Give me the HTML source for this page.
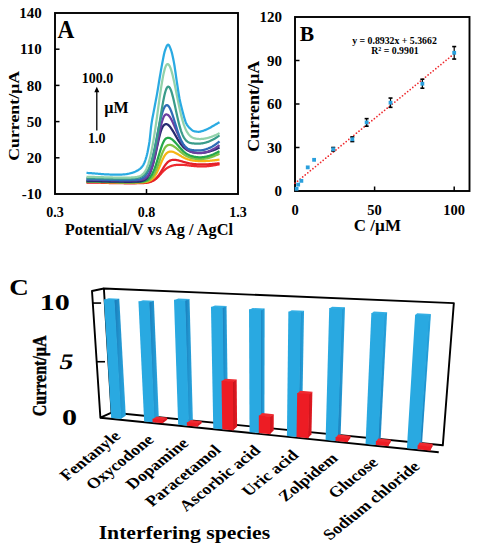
<!DOCTYPE html>
<html><head><meta charset="utf-8"><style>
html,body{margin:0;padding:0;background:#fff;width:477px;height:550px;overflow:hidden}
svg{display:block}
</style></head><body>
<svg width="477" height="550" viewBox="0 0 477 550" font-family="'Liberation Serif', serif" font-weight="bold" fill="#000">
<defs>
<linearGradient id="gb" x1="0" y1="0" x2="1" y2="0"><stop offset="0" stop-color="#1A78B6"/><stop offset="0.45" stop-color="#2193CE"/><stop offset="1" stop-color="#29A6DF"/></linearGradient>
<linearGradient id="gr" x1="0" y1="0" x2="1" y2="0"><stop offset="0" stop-color="#B8121A"/><stop offset="0.5" stop-color="#D5171F"/><stop offset="1" stop-color="#E61B23"/></linearGradient>
</defs>
<rect width="477" height="550" fill="#fff"/>
<path d="M86.5,182.50 L87.0,182.50 L87.5,182.50 L88.0,182.50 L88.5,182.50 L89.0,182.51 L89.5,182.51 L90.0,182.51 L90.5,182.52 L91.0,182.53 L91.5,182.53 L92.0,182.54 L92.5,182.55 L93.0,182.56 L93.5,182.57 L94.0,182.58 L94.5,182.59 L95.0,182.60 L95.5,182.61 L96.0,182.62 L96.5,182.64 L97.0,182.65 L97.5,182.66 L98.0,182.68 L98.5,182.69 L99.0,182.71 L99.5,182.72 L100.0,182.74 L100.5,182.75 L101.0,182.77 L101.5,182.78 L102.0,182.80 L102.5,182.81 L103.0,182.83 L103.5,182.84 L104.0,182.86 L104.5,182.88 L105.0,182.89 L105.5,182.91 L106.0,182.92 L106.5,182.94 L107.0,182.95 L107.5,182.96 L108.0,182.98 L108.5,182.99 L109.0,183.01 L109.5,183.02 L110.0,183.03 L110.5,183.04 L111.0,183.06 L111.5,183.07 L112.0,183.08 L112.5,183.09 L113.0,183.10 L113.5,183.11 L114.0,183.12 L114.5,183.13 L115.0,183.14 L115.5,183.15 L116.0,183.16 L116.5,183.17 L117.0,183.18 L117.5,183.18 L118.0,183.19 L118.5,183.20 L119.0,183.20 L119.5,183.21 L120.0,183.21 L120.5,183.22 L121.0,183.23 L121.5,183.23 L122.0,183.24 L122.5,183.24 L123.0,183.24 L123.5,183.25 L124.0,183.25 L124.5,183.25 L125.0,183.26 L125.5,183.26 L126.0,183.26 L126.5,183.26 L127.0,183.27 L127.5,183.27 L128.0,183.27 L128.5,183.27 L129.0,183.27 L129.5,183.27 L130.0,183.27 L130.5,183.27 L131.0,183.27 L131.5,183.27 L132.0,183.27 L132.5,183.27 L133.0,183.27 L133.5,183.27 L134.0,183.27 L134.5,183.27 L135.0,183.26 L135.5,183.26 L136.0,183.25 L136.5,183.25 L137.0,183.24 L137.5,183.24 L138.0,183.23 L138.5,183.22 L139.0,183.21 L139.5,183.20 L140.0,183.19 L140.5,183.18 L141.0,183.16 L141.5,183.14 L142.0,183.12 L142.5,183.10 L143.0,183.07 L143.5,183.04 L144.0,183.01 L144.5,182.97 L145.0,182.92 L145.5,182.88 L146.0,182.82 L146.5,182.76 L147.0,182.69 L147.5,182.61 L148.0,182.52 L148.5,182.42 L149.0,182.31 L149.5,182.19 L150.0,182.05 L150.5,181.89 L151.0,181.72 L151.5,181.53 L152.0,181.32 L152.5,181.09 L153.0,180.84 L153.5,180.56 L154.0,180.26 L154.5,179.93 L155.0,179.57 L155.5,179.19 L156.0,178.78 L156.5,178.35 L157.0,177.89 L157.5,177.41 L158.0,176.91 L158.5,176.39 L159.0,175.86 L159.5,175.31 L160.0,174.76 L160.5,174.20 L161.0,173.65 L161.5,173.10 L162.0,172.55 L162.5,172.02 L163.0,171.50 L163.5,171.00 L164.0,170.52 L164.5,170.06 L165.0,169.62 L165.5,169.21 L166.0,168.81 L166.5,168.45 L167.0,168.10 L167.5,167.78 L168.0,167.48 L168.5,167.20 L169.0,166.94 L169.5,166.71 L170.0,166.48 L170.5,166.28 L171.0,166.09 L171.5,165.92 L172.0,165.77 L172.5,165.62 L173.0,165.49 L173.5,165.37 L174.0,165.27 L174.5,165.17 L175.0,165.09 L175.5,165.02 L176.0,164.95 L176.5,164.90 L177.0,164.86 L177.5,164.82 L178.0,164.80 L178.5,164.78 L179.0,164.76 L179.5,164.76 L180.0,164.76 L180.5,164.77 L181.0,164.78 L181.5,164.80 L182.0,164.82 L182.5,164.85 L183.0,164.88 L183.5,164.91 L184.0,164.95 L184.5,165.00 L185.0,165.04 L185.5,165.09 L186.0,165.14 L186.5,165.19 L187.0,165.25 L187.5,165.30 L188.0,165.36 L188.5,165.42 L189.0,165.47 L189.5,165.53 L190.0,165.59 L190.5,165.64 L191.0,165.70 L191.5,165.76 L192.0,165.81 L192.5,165.87 L193.0,165.92 L193.5,165.97 L194.0,166.02 L194.5,166.07 L195.0,166.11 L195.5,166.16 L196.0,166.20 L196.5,166.24 L197.0,166.28 L197.5,166.31 L198.0,166.35 L198.5,166.38 L199.0,166.40 L199.5,166.43 L200.0,166.44 L200.5,166.46 L201.0,166.46 L201.5,166.47 L202.0,166.47 L202.5,166.46 L203.0,166.45 L203.5,166.44 L204.0,166.42 L204.5,166.40 L205.0,166.38 L205.5,166.35 L206.0,166.32 L206.5,166.28 L207.0,166.24 L207.5,166.20 L208.0,166.15 L208.5,166.10 L209.0,166.04 L209.5,165.99 L210.0,165.93 L210.5,165.86 L211.0,165.80 L211.5,165.73 L212.0,165.65 L212.5,165.58 L213.0,165.50 L213.5,165.42 L214.0,165.33 L214.5,165.24 L215.0,165.15 L215.5,165.06 L216.0,164.96 L216.5,164.86 L217.0,164.76 L217.5,164.65 L218.0,164.54 L218.5,164.43 L219.0,164.32 L219.5,164.20" fill="none" stroke="#EE2A2F" stroke-width="2.25" stroke-linejoin="round"/>
<path d="M86.5,182.00 L87.0,182.00 L87.5,182.00 L88.0,182.00 L88.5,182.00 L89.0,182.01 L89.5,182.01 L90.0,182.01 L90.5,182.02 L91.0,182.03 L91.5,182.03 L92.0,182.04 L92.5,182.05 L93.0,182.06 L93.5,182.07 L94.0,182.08 L94.5,182.09 L95.0,182.10 L95.5,182.11 L96.0,182.12 L96.5,182.14 L97.0,182.15 L97.5,182.16 L98.0,182.18 L98.5,182.19 L99.0,182.21 L99.5,182.22 L100.0,182.24 L100.5,182.25 L101.0,182.27 L101.5,182.28 L102.0,182.30 L102.5,182.31 L103.0,182.33 L103.5,182.34 L104.0,182.36 L104.5,182.38 L105.0,182.39 L105.5,182.41 L106.0,182.42 L106.5,182.44 L107.0,182.45 L107.5,182.46 L108.0,182.48 L108.5,182.49 L109.0,182.51 L109.5,182.52 L110.0,182.53 L110.5,182.54 L111.0,182.56 L111.5,182.57 L112.0,182.58 L112.5,182.59 L113.0,182.60 L113.5,182.61 L114.0,182.62 L114.5,182.63 L115.0,182.64 L115.5,182.65 L116.0,182.66 L116.5,182.67 L117.0,182.68 L117.5,182.68 L118.0,182.69 L118.5,182.70 L119.0,182.70 L119.5,182.71 L120.0,182.72 L120.5,182.72 L121.0,182.73 L121.5,182.73 L122.0,182.74 L122.5,182.74 L123.0,182.74 L123.5,182.75 L124.0,182.75 L124.5,182.75 L125.0,182.76 L125.5,182.76 L126.0,182.76 L126.5,182.77 L127.0,182.77 L127.5,182.77 L128.0,182.77 L128.5,182.77 L129.0,182.77 L129.5,182.77 L130.0,182.78 L130.5,182.78 L131.0,182.78 L131.5,182.78 L132.0,182.78 L132.5,182.78 L133.0,182.78 L133.5,182.77 L134.0,182.77 L134.5,182.77 L135.0,182.77 L135.5,182.77 L136.0,182.76 L136.5,182.76 L137.0,182.76 L137.5,182.75 L138.0,182.75 L138.5,182.74 L139.0,182.73 L139.5,182.72 L140.0,182.71 L140.5,182.70 L141.0,182.69 L141.5,182.68 L142.0,182.66 L142.5,182.64 L143.0,182.62 L143.5,182.60 L144.0,182.57 L144.5,182.54 L145.0,182.51 L145.5,182.47 L146.0,182.42 L146.5,182.37 L147.0,182.31 L147.5,182.24 L148.0,182.17 L148.5,182.08 L149.0,181.98 L149.5,181.87 L150.0,181.75 L150.5,181.60 L151.0,181.44 L151.5,181.26 L152.0,181.06 L152.5,180.83 L153.0,180.58 L153.5,180.30 L154.0,179.98 L154.5,179.64 L155.0,179.25 L155.5,178.84 L156.0,178.38 L156.5,177.88 L157.0,177.34 L157.5,176.76 L158.0,176.15 L158.5,175.49 L159.0,174.80 L159.5,174.07 L160.0,173.32 L160.5,172.54 L161.0,171.74 L161.5,170.93 L162.0,170.11 L162.5,169.29 L163.0,168.48 L163.5,167.68 L164.0,166.89 L164.5,166.14 L165.0,165.41 L165.5,164.72 L166.0,164.06 L166.5,163.46 L167.0,162.90 L167.5,162.39 L168.0,161.93 L168.5,161.52 L169.0,161.17 L169.5,160.88 L170.0,160.63 L170.5,160.43 L171.0,160.26 L171.5,160.12 L172.0,160.01 L172.5,159.92 L173.0,159.87 L173.5,159.83 L174.0,159.82 L174.5,159.83 L175.0,159.86 L175.5,159.90 L176.0,159.97 L176.5,160.04 L177.0,160.13 L177.5,160.23 L178.0,160.34 L178.5,160.46 L179.0,160.59 L179.5,160.72 L180.0,160.86 L180.5,161.00 L181.0,161.14 L181.5,161.29 L182.0,161.44 L182.5,161.59 L183.0,161.74 L183.5,161.88 L184.0,162.03 L184.5,162.17 L185.0,162.31 L185.5,162.45 L186.0,162.58 L186.5,162.71 L187.0,162.84 L187.5,162.95 L188.0,163.07 L188.5,163.18 L189.0,163.28 L189.5,163.38 L190.0,163.48 L190.5,163.57 L191.0,163.65 L191.5,163.73 L192.0,163.80 L192.5,163.87 L193.0,163.94 L193.5,164.00 L194.0,164.05 L194.5,164.10 L195.0,164.15 L195.5,164.19 L196.0,164.23 L196.5,164.27 L197.0,164.30 L197.5,164.33 L198.0,164.36 L198.5,164.39 L199.0,164.41 L199.5,164.42 L200.0,164.44 L200.5,164.45 L201.0,164.45 L201.5,164.46 L202.0,164.46 L202.5,164.46 L203.0,164.45 L203.5,164.44 L204.0,164.43 L204.5,164.42 L205.0,164.41 L205.5,164.39 L206.0,164.37 L206.5,164.35 L207.0,164.33 L207.5,164.30 L208.0,164.28 L208.5,164.25 L209.0,164.22 L209.5,164.18 L210.0,164.15 L210.5,164.11 L211.0,164.08 L211.5,164.04 L212.0,164.00 L212.5,163.96 L213.0,163.91 L213.5,163.87 L214.0,163.82 L214.5,163.77 L215.0,163.72 L215.5,163.67 L216.0,163.62 L216.5,163.56 L217.0,163.51 L217.5,163.45 L218.0,163.39 L218.5,163.33 L219.0,163.27 L219.5,163.20" fill="none" stroke="#E42129" stroke-width="2.25" stroke-linejoin="round"/>
<path d="M86.5,181.80 L87.0,181.80 L87.5,181.80 L88.0,181.80 L88.5,181.80 L89.0,181.81 L89.5,181.81 L90.0,181.81 L90.5,181.82 L91.0,181.83 L91.5,181.83 L92.0,181.84 L92.5,181.85 L93.0,181.86 L93.5,181.87 L94.0,181.88 L94.5,181.89 L95.0,181.90 L95.5,181.91 L96.0,181.92 L96.5,181.94 L97.0,181.95 L97.5,181.96 L98.0,181.98 L98.5,181.99 L99.0,182.01 L99.5,182.02 L100.0,182.04 L100.5,182.05 L101.0,182.07 L101.5,182.08 L102.0,182.10 L102.5,182.11 L103.0,182.13 L103.5,182.14 L104.0,182.16 L104.5,182.18 L105.0,182.19 L105.5,182.21 L106.0,182.22 L106.5,182.24 L107.0,182.25 L107.5,182.26 L108.0,182.28 L108.5,182.29 L109.0,182.31 L109.5,182.32 L110.0,182.33 L110.5,182.34 L111.0,182.36 L111.5,182.37 L112.0,182.38 L112.5,182.39 L113.0,182.40 L113.5,182.41 L114.0,182.42 L114.5,182.43 L115.0,182.44 L115.5,182.45 L116.0,182.46 L116.5,182.47 L117.0,182.48 L117.5,182.48 L118.0,182.49 L118.5,182.50 L119.0,182.50 L119.5,182.51 L120.0,182.51 L120.5,182.52 L121.0,182.53 L121.5,182.53 L122.0,182.54 L122.5,182.54 L123.0,182.54 L123.5,182.55 L124.0,182.55 L124.5,182.55 L125.0,182.56 L125.5,182.56 L126.0,182.56 L126.5,182.56 L127.0,182.57 L127.5,182.57 L128.0,182.57 L128.5,182.57 L129.0,182.57 L129.5,182.57 L130.0,182.57 L130.5,182.57 L131.0,182.57 L131.5,182.57 L132.0,182.57 L132.5,182.57 L133.0,182.57 L133.5,182.57 L134.0,182.57 L134.5,182.56 L135.0,182.56 L135.5,182.56 L136.0,182.55 L136.5,182.55 L137.0,182.54 L137.5,182.53 L138.0,182.52 L138.5,182.51 L139.0,182.50 L139.5,182.49 L140.0,182.47 L140.5,182.46 L141.0,182.44 L141.5,182.41 L142.0,182.39 L142.5,182.35 L143.0,182.32 L143.5,182.28 L144.0,182.23 L144.5,182.17 L145.0,182.11 L145.5,182.03 L146.0,181.95 L146.5,181.85 L147.0,181.73 L147.5,181.60 L148.0,181.45 L148.5,181.28 L149.0,181.08 L149.5,180.85 L150.0,180.60 L150.5,180.31 L151.0,179.99 L151.5,179.62 L152.0,179.21 L152.5,178.76 L153.0,178.25 L153.5,177.69 L154.0,177.08 L154.5,176.41 L155.0,175.68 L155.5,174.90 L156.0,174.05 L156.5,173.15 L157.0,172.19 L157.5,171.17 L158.0,170.12 L158.5,169.01 L159.0,167.88 L159.5,166.72 L160.0,165.54 L160.5,164.35 L161.0,163.17 L161.5,162.00 L162.0,160.86 L162.5,159.76 L163.0,158.70 L163.5,157.71 L164.0,156.77 L164.5,155.92 L165.0,155.14 L165.5,154.45 L166.0,153.85 L166.5,153.34 L167.0,152.92 L167.5,152.57 L168.0,152.27 L168.5,152.03 L169.0,151.84 L169.5,151.70 L170.0,151.60 L170.5,151.55 L171.0,151.54 L171.5,151.58 L172.0,151.64 L172.5,151.74 L173.0,151.88 L173.5,152.04 L174.0,152.22 L174.5,152.43 L175.0,152.66 L175.5,152.90 L176.0,153.16 L176.5,153.43 L177.0,153.71 L177.5,154.00 L178.0,154.30 L178.5,154.60 L179.0,154.90 L179.5,155.20 L180.0,155.50 L180.5,155.80 L181.0,156.09 L181.5,156.38 L182.0,156.67 L182.5,156.94 L183.0,157.21 L183.5,157.47 L184.0,157.72 L184.5,157.96 L185.0,158.19 L185.5,158.41 L186.0,158.62 L186.5,158.82 L187.0,159.01 L187.5,159.19 L188.0,159.36 L188.5,159.51 L189.0,159.66 L189.5,159.80 L190.0,159.93 L190.5,160.05 L191.0,160.16 L191.5,160.26 L192.0,160.36 L192.5,160.44 L193.0,160.52 L193.5,160.60 L194.0,160.66 L194.5,160.72 L195.0,160.78 L195.5,160.83 L196.0,160.87 L196.5,160.91 L197.0,160.95 L197.5,160.98 L198.0,161.01 L198.5,161.04 L199.0,161.06 L199.5,161.08 L200.0,161.09 L200.5,161.10 L201.0,161.10 L201.5,161.10 L202.0,161.10 L202.5,161.10 L203.0,161.09 L203.5,161.08 L204.0,161.06 L204.5,161.05 L205.0,161.03 L205.5,161.01 L206.0,160.99 L206.5,160.96 L207.0,160.93 L207.5,160.90 L208.0,160.87 L208.5,160.84 L209.0,160.80 L209.5,160.76 L210.0,160.72 L210.5,160.68 L211.0,160.63 L211.5,160.59 L212.0,160.54 L212.5,160.49 L213.0,160.44 L213.5,160.39 L214.0,160.33 L214.5,160.28 L215.0,160.22 L215.5,160.16 L216.0,160.10 L216.5,160.03 L217.0,159.97 L217.5,159.90 L218.0,159.83 L218.5,159.76 L219.0,159.69 L219.5,159.61" fill="none" stroke="#F7B514" stroke-width="2.25" stroke-linejoin="round"/>
<path d="M86.5,181.60 L87.0,181.60 L87.5,181.60 L88.0,181.60 L88.5,181.60 L89.0,181.61 L89.5,181.61 L90.0,181.61 L90.5,181.62 L91.0,181.63 L91.5,181.63 L92.0,181.64 L92.5,181.65 L93.0,181.66 L93.5,181.67 L94.0,181.68 L94.5,181.69 L95.0,181.70 L95.5,181.71 L96.0,181.72 L96.5,181.74 L97.0,181.75 L97.5,181.76 L98.0,181.78 L98.5,181.79 L99.0,181.81 L99.5,181.82 L100.0,181.84 L100.5,181.85 L101.0,181.87 L101.5,181.88 L102.0,181.90 L102.5,181.91 L103.0,181.93 L103.5,181.94 L104.0,181.96 L104.5,181.98 L105.0,181.99 L105.5,182.01 L106.0,182.02 L106.5,182.04 L107.0,182.05 L107.5,182.06 L108.0,182.08 L108.5,182.09 L109.0,182.11 L109.5,182.12 L110.0,182.13 L110.5,182.14 L111.0,182.16 L111.5,182.17 L112.0,182.18 L112.5,182.19 L113.0,182.20 L113.5,182.21 L114.0,182.22 L114.5,182.23 L115.0,182.24 L115.5,182.25 L116.0,182.26 L116.5,182.27 L117.0,182.27 L117.5,182.28 L118.0,182.29 L118.5,182.30 L119.0,182.30 L119.5,182.31 L120.0,182.31 L120.5,182.32 L121.0,182.32 L121.5,182.33 L122.0,182.33 L122.5,182.34 L123.0,182.34 L123.5,182.35 L124.0,182.35 L124.5,182.35 L125.0,182.36 L125.5,182.36 L126.0,182.36 L126.5,182.36 L127.0,182.36 L127.5,182.36 L128.0,182.37 L128.5,182.37 L129.0,182.37 L129.5,182.37 L130.0,182.37 L130.5,182.37 L131.0,182.37 L131.5,182.36 L132.0,182.36 L132.5,182.36 L133.0,182.36 L133.5,182.35 L134.0,182.35 L134.5,182.34 L135.0,182.34 L135.5,182.33 L136.0,182.32 L136.5,182.31 L137.0,182.30 L137.5,182.29 L138.0,182.28 L138.5,182.26 L139.0,182.24 L139.5,182.22 L140.0,182.20 L140.5,182.17 L141.0,182.14 L141.5,182.10 L142.0,182.06 L142.5,182.01 L143.0,181.95 L143.5,181.89 L144.0,181.81 L144.5,181.73 L145.0,181.63 L145.5,181.51 L146.0,181.38 L146.5,181.23 L147.0,181.06 L147.5,180.86 L148.0,180.63 L148.5,180.38 L149.0,180.08 L149.5,179.75 L150.0,179.38 L150.5,178.96 L151.0,178.49 L151.5,177.96 L152.0,177.38 L152.5,176.73 L153.0,176.01 L153.5,175.23 L154.0,174.38 L154.5,173.45 L155.0,172.45 L155.5,171.39 L156.0,170.25 L156.5,169.05 L157.0,167.79 L157.5,166.47 L158.0,165.11 L158.5,163.72 L159.0,162.30 L159.5,160.86 L160.0,159.43 L160.5,158.00 L161.0,156.60 L161.5,155.24 L162.0,153.93 L162.5,152.68 L163.0,151.50 L163.5,150.40 L164.0,149.40 L164.5,148.50 L165.0,147.70 L165.5,147.01 L166.0,146.43 L166.5,145.97 L167.0,145.63 L167.5,145.36 L168.0,145.15 L168.5,144.99 L169.0,144.90 L169.5,144.86 L170.0,144.88 L170.5,144.94 L171.0,145.04 L171.5,145.19 L172.0,145.38 L172.5,145.61 L173.0,145.87 L173.5,146.16 L174.0,146.47 L174.5,146.81 L175.0,147.18 L175.5,147.56 L176.0,147.95 L176.5,148.36 L177.0,148.77 L177.5,149.20 L178.0,149.63 L178.5,150.06 L179.0,150.49 L179.5,150.92 L180.0,151.35 L180.5,151.77 L181.0,152.19 L181.5,152.59 L182.0,152.99 L182.5,153.38 L183.0,153.75 L183.5,154.11 L184.0,154.46 L184.5,154.80 L185.0,155.12 L185.5,155.43 L186.0,155.72 L186.5,155.99 L187.0,156.26 L187.5,156.50 L188.0,156.74 L188.5,156.95 L189.0,157.16 L189.5,157.35 L190.0,157.53 L190.5,157.69 L191.0,157.85 L191.5,157.99 L192.0,158.12 L192.5,158.24 L193.0,158.35 L193.5,158.45 L194.0,158.54 L194.5,158.62 L195.0,158.70 L195.5,158.77 L196.0,158.83 L196.5,158.89 L197.0,158.94 L197.5,158.98 L198.0,159.02 L198.5,159.06 L199.0,159.08 L199.5,159.09 L200.0,159.10 L200.5,159.09 L201.0,159.08 L201.5,159.06 L202.0,159.02 L202.5,158.99 L203.0,158.94 L203.5,158.88 L204.0,158.82 L204.5,158.75 L205.0,158.68 L205.5,158.59 L206.0,158.50 L206.5,158.40 L207.0,158.30 L207.5,158.19 L208.0,158.07 L208.5,157.95 L209.0,157.82 L209.5,157.68 L210.0,157.53 L210.5,157.38 L211.0,157.23 L211.5,157.07 L212.0,156.90 L212.5,156.72 L213.0,156.54 L213.5,156.35 L214.0,156.16 L214.5,155.96 L215.0,155.75 L215.5,155.54 L216.0,155.32 L216.5,155.09 L217.0,154.86 L217.5,154.62 L218.0,154.38 L218.5,154.13 L219.0,153.87 L219.5,153.61" fill="none" stroke="#80C344" stroke-width="2.25" stroke-linejoin="round"/>
<path d="M86.5,181.30 L87.0,181.30 L87.5,181.30 L88.0,181.30 L88.5,181.30 L89.0,181.31 L89.5,181.31 L90.0,181.31 L90.5,181.32 L91.0,181.33 L91.5,181.33 L92.0,181.34 L92.5,181.35 L93.0,181.36 L93.5,181.37 L94.0,181.38 L94.5,181.39 L95.0,181.40 L95.5,181.41 L96.0,181.42 L96.5,181.44 L97.0,181.45 L97.5,181.46 L98.0,181.48 L98.5,181.49 L99.0,181.51 L99.5,181.52 L100.0,181.54 L100.5,181.55 L101.0,181.57 L101.5,181.58 L102.0,181.60 L102.5,181.61 L103.0,181.63 L103.5,181.64 L104.0,181.66 L104.5,181.68 L105.0,181.69 L105.5,181.71 L106.0,181.72 L106.5,181.74 L107.0,181.75 L107.5,181.76 L108.0,181.78 L108.5,181.79 L109.0,181.81 L109.5,181.82 L110.0,181.83 L110.5,181.84 L111.0,181.86 L111.5,181.87 L112.0,181.88 L112.5,181.89 L113.0,181.90 L113.5,181.91 L114.0,181.92 L114.5,181.93 L115.0,181.94 L115.5,181.95 L116.0,181.96 L116.5,181.97 L117.0,181.97 L117.5,181.98 L118.0,181.99 L118.5,182.00 L119.0,182.00 L119.5,182.01 L120.0,182.01 L120.5,182.02 L121.0,182.02 L121.5,182.03 L122.0,182.03 L122.5,182.04 L123.0,182.04 L123.5,182.04 L124.0,182.05 L124.5,182.05 L125.0,182.05 L125.5,182.05 L126.0,182.06 L126.5,182.06 L127.0,182.06 L127.5,182.06 L128.0,182.06 L128.5,182.06 L129.0,182.06 L129.5,182.06 L130.0,182.06 L130.5,182.05 L131.0,182.05 L131.5,182.05 L132.0,182.05 L132.5,182.04 L133.0,182.04 L133.5,182.03 L134.0,182.02 L134.5,182.01 L135.0,182.00 L135.5,181.99 L136.0,181.98 L136.5,181.96 L137.0,181.95 L137.5,181.93 L138.0,181.90 L138.5,181.88 L139.0,181.84 L139.5,181.81 L140.0,181.77 L140.5,181.72 L141.0,181.67 L141.5,181.61 L142.0,181.54 L142.5,181.46 L143.0,181.37 L143.5,181.26 L144.0,181.14 L144.5,181.00 L145.0,180.83 L145.5,180.65 L146.0,180.44 L146.5,180.20 L147.0,179.92 L147.5,179.61 L148.0,179.25 L148.5,178.85 L149.0,178.39 L149.5,177.88 L150.0,177.31 L150.5,176.68 L151.0,175.97 L151.5,175.19 L152.0,174.33 L152.5,173.39 L153.0,172.36 L153.5,171.26 L154.0,170.06 L154.5,168.79 L155.0,167.44 L155.5,166.02 L156.0,164.52 L156.5,162.97 L157.0,161.37 L157.5,159.73 L158.0,158.06 L158.5,156.38 L159.0,154.70 L159.5,153.03 L160.0,151.39 L160.5,149.79 L161.0,148.25 L161.5,146.78 L162.0,145.40 L162.5,144.11 L163.0,142.92 L163.5,141.86 L164.0,140.91 L164.5,140.10 L165.0,139.42 L165.5,138.88 L166.0,138.48 L166.5,138.20 L167.0,138.00 L167.5,137.87 L168.0,137.81 L168.5,137.81 L169.0,137.87 L169.5,137.99 L170.0,138.16 L170.5,138.39 L171.0,138.66 L171.5,138.98 L172.0,139.33 L172.5,139.73 L173.0,140.16 L173.5,140.61 L174.0,141.10 L174.5,141.61 L175.0,142.13 L175.5,142.68 L176.0,143.23 L176.5,143.80 L177.0,144.37 L177.5,144.95 L178.0,145.53 L178.5,146.10 L179.0,146.67 L179.5,147.24 L180.0,147.80 L180.5,148.34 L181.0,148.88 L181.5,149.40 L182.0,149.90 L182.5,150.39 L183.0,150.87 L183.5,151.32 L184.0,151.76 L184.5,152.17 L185.0,152.57 L185.5,152.95 L186.0,153.31 L186.5,153.65 L187.0,153.97 L187.5,154.27 L188.0,154.55 L188.5,154.81 L189.0,155.06 L189.5,155.28 L190.0,155.50 L190.5,155.69 L191.0,155.87 L191.5,156.04 L192.0,156.19 L192.5,156.34 L193.0,156.46 L193.5,156.58 L194.0,156.69 L194.5,156.78 L195.0,156.87 L195.5,156.95 L196.0,157.02 L196.5,157.09 L197.0,157.15 L197.5,157.20 L198.0,157.24 L198.5,157.28 L199.0,157.31 L199.5,157.32 L200.0,157.33 L200.5,157.32 L201.0,157.30 L201.5,157.28 L202.0,157.24 L202.5,157.20 L203.0,157.15 L203.5,157.09 L204.0,157.02 L204.5,156.94 L205.0,156.86 L205.5,156.76 L206.0,156.66 L206.5,156.55 L207.0,156.44 L207.5,156.31 L208.0,156.18 L208.5,156.04 L209.0,155.90 L209.5,155.74 L210.0,155.58 L210.5,155.42 L211.0,155.24 L211.5,155.06 L212.0,154.87 L212.5,154.68 L213.0,154.47 L213.5,154.27 L214.0,154.05 L214.5,153.83 L215.0,153.60 L215.5,153.36 L216.0,153.11 L216.5,152.86 L217.0,152.61 L217.5,152.34 L218.0,152.07 L218.5,151.79 L219.0,151.50 L219.5,151.21" fill="none" stroke="#25A84A" stroke-width="2.25" stroke-linejoin="round"/>
<path d="M86.5,181.00 L87.0,181.00 L87.5,181.00 L88.0,181.00 L88.5,181.00 L89.0,181.01 L89.5,181.01 L90.0,181.01 L90.5,181.02 L91.0,181.03 L91.5,181.03 L92.0,181.04 L92.5,181.05 L93.0,181.06 L93.5,181.07 L94.0,181.08 L94.5,181.09 L95.0,181.10 L95.5,181.11 L96.0,181.12 L96.5,181.14 L97.0,181.15 L97.5,181.16 L98.0,181.18 L98.5,181.19 L99.0,181.21 L99.5,181.22 L100.0,181.24 L100.5,181.25 L101.0,181.27 L101.5,181.28 L102.0,181.30 L102.5,181.31 L103.0,181.33 L103.5,181.34 L104.0,181.36 L104.5,181.38 L105.0,181.39 L105.5,181.41 L106.0,181.42 L106.5,181.44 L107.0,181.45 L107.5,181.46 L108.0,181.48 L108.5,181.49 L109.0,181.51 L109.5,181.52 L110.0,181.53 L110.5,181.54 L111.0,181.56 L111.5,181.57 L112.0,181.58 L112.5,181.59 L113.0,181.60 L113.5,181.61 L114.0,181.62 L114.5,181.63 L115.0,181.64 L115.5,181.65 L116.0,181.66 L116.5,181.67 L117.0,181.67 L117.5,181.68 L118.0,181.69 L118.5,181.70 L119.0,181.70 L119.5,181.71 L120.0,181.71 L120.5,181.72 L121.0,181.72 L121.5,181.73 L122.0,181.73 L122.5,181.74 L123.0,181.74 L123.5,181.74 L124.0,181.75 L124.5,181.75 L125.0,181.75 L125.5,181.75 L126.0,181.76 L126.5,181.76 L127.0,181.76 L127.5,181.76 L128.0,181.76 L128.5,181.76 L129.0,181.76 L129.5,181.76 L130.0,181.76 L130.5,181.76 L131.0,181.75 L131.5,181.75 L132.0,181.75 L132.5,181.74 L133.0,181.74 L133.5,181.73 L134.0,181.72 L134.5,181.71 L135.0,181.70 L135.5,181.68 L136.0,181.67 L136.5,181.65 L137.0,181.63 L137.5,181.60 L138.0,181.57 L138.5,181.53 L139.0,181.49 L139.5,181.43 L140.0,181.37 L140.5,181.30 L141.0,181.21 L141.5,181.11 L142.0,180.99 L142.5,180.85 L143.0,180.68 L143.5,180.49 L144.0,180.26 L144.5,180.00 L145.0,179.70 L145.5,179.35 L146.0,178.94 L146.5,178.48 L147.0,177.95 L147.5,177.36 L148.0,176.68 L148.5,175.92 L149.0,175.06 L149.5,174.11 L150.0,173.06 L150.5,171.90 L151.0,170.63 L151.5,169.24 L152.0,167.73 L152.5,166.11 L153.0,164.37 L153.5,162.52 L154.0,160.57 L154.5,158.52 L155.0,156.39 L155.5,154.19 L156.0,151.93 L156.5,149.63 L157.0,147.31 L157.5,145.00 L158.0,142.72 L158.5,140.49 L159.0,138.33 L159.5,136.27 L160.0,134.33 L160.5,132.53 L161.0,130.90 L161.5,129.44 L162.0,128.17 L162.5,127.10 L163.0,126.25 L163.5,125.60 L164.0,125.08 L164.5,124.68 L165.0,124.38 L165.5,124.20 L166.0,124.12 L166.5,124.15 L167.0,124.27 L167.5,124.48 L168.0,124.78 L168.5,125.16 L169.0,125.62 L169.5,126.14 L170.0,126.73 L170.5,127.37 L171.0,128.06 L171.5,128.80 L172.0,129.57 L172.5,130.37 L173.0,131.20 L173.5,132.05 L174.0,132.91 L174.5,133.79 L175.0,134.66 L175.5,135.54 L176.0,136.42 L176.5,137.28 L177.0,138.14 L177.5,138.98 L178.0,139.80 L178.5,140.60 L179.0,141.38 L179.5,142.14 L180.0,142.87 L180.5,143.57 L181.0,144.24 L181.5,144.88 L182.0,145.49 L182.5,146.07 L183.0,146.62 L183.5,147.14 L184.0,147.63 L184.5,148.09 L185.0,148.53 L185.5,148.93 L186.0,149.30 L186.5,149.65 L187.0,149.98 L187.5,150.27 L188.0,150.55 L188.5,150.80 L189.0,151.04 L189.5,151.25 L190.0,151.44 L190.5,151.62 L191.0,151.78 L191.5,151.92 L192.0,152.06 L192.5,152.17 L193.0,152.28 L193.5,152.38 L194.0,152.46 L194.5,152.54 L195.0,152.61 L195.5,152.67 L196.0,152.72 L196.5,152.77 L197.0,152.81 L197.5,152.85 L198.0,152.88 L198.5,152.90 L199.0,152.92 L199.5,152.93 L200.0,152.92 L200.5,152.91 L201.0,152.89 L201.5,152.87 L202.0,152.83 L202.5,152.79 L203.0,152.74 L203.5,152.68 L204.0,152.62 L204.5,152.55 L205.0,152.47 L205.5,152.39 L206.0,152.30 L206.5,152.20 L207.0,152.09 L207.5,151.98 L208.0,151.87 L208.5,151.75 L209.0,151.62 L209.5,151.48 L210.0,151.34 L210.5,151.19 L211.0,151.04 L211.5,150.88 L212.0,150.71 L212.5,150.54 L213.0,150.36 L213.5,150.18 L214.0,149.99 L214.5,149.79 L215.0,149.59 L215.5,149.38 L216.0,149.17 L216.5,148.95 L217.0,148.72 L217.5,148.49 L218.0,148.25 L218.5,148.01 L219.0,147.76 L219.5,147.50" fill="none" stroke="#272C70" stroke-width="2.25" stroke-linejoin="round"/>
<path d="M86.5,179.70 L87.0,179.70 L87.5,179.70 L88.0,179.70 L88.5,179.70 L89.0,179.71 L89.5,179.71 L90.0,179.71 L90.5,179.72 L91.0,179.73 L91.5,179.73 L92.0,179.74 L92.5,179.75 L93.0,179.76 L93.5,179.77 L94.0,179.78 L94.5,179.79 L95.0,179.80 L95.5,179.81 L96.0,179.82 L96.5,179.84 L97.0,179.85 L97.5,179.86 L98.0,179.88 L98.5,179.89 L99.0,179.91 L99.5,179.92 L100.0,179.94 L100.5,179.95 L101.0,179.97 L101.5,179.98 L102.0,180.00 L102.5,180.01 L103.0,180.03 L103.5,180.04 L104.0,180.06 L104.5,180.08 L105.0,180.09 L105.5,180.11 L106.0,180.12 L106.5,180.14 L107.0,180.15 L107.5,180.16 L108.0,180.18 L108.5,180.19 L109.0,180.21 L109.5,180.22 L110.0,180.23 L110.5,180.24 L111.0,180.26 L111.5,180.27 L112.0,180.28 L112.5,180.29 L113.0,180.30 L113.5,180.31 L114.0,180.32 L114.5,180.33 L115.0,180.34 L115.5,180.35 L116.0,180.36 L116.5,180.37 L117.0,180.37 L117.5,180.38 L118.0,180.39 L118.5,180.39 L119.0,180.40 L119.5,180.41 L120.0,180.41 L120.5,180.42 L121.0,180.42 L121.5,180.43 L122.0,180.43 L122.5,180.44 L123.0,180.44 L123.5,180.44 L124.0,180.44 L124.5,180.45 L125.0,180.45 L125.5,180.45 L126.0,180.45 L126.5,180.45 L127.0,180.45 L127.5,180.45 L128.0,180.45 L128.5,180.45 L129.0,180.45 L129.5,180.45 L130.0,180.45 L130.5,180.44 L131.0,180.44 L131.5,180.43 L132.0,180.43 L132.5,180.42 L133.0,180.41 L133.5,180.40 L134.0,180.39 L134.5,180.38 L135.0,180.36 L135.5,180.35 L136.0,180.33 L136.5,180.30 L137.0,180.28 L137.5,180.24 L138.0,180.21 L138.5,180.17 L139.0,180.12 L139.5,180.06 L140.0,180.00 L140.5,179.93 L141.0,179.84 L141.5,179.74 L142.0,179.62 L142.5,179.49 L143.0,179.33 L143.5,179.15 L144.0,178.94 L144.5,178.70 L145.0,178.41 L145.5,178.09 L146.0,177.72 L146.5,177.29 L147.0,176.80 L147.5,176.24 L148.0,175.61 L148.5,174.90 L149.0,174.09 L149.5,173.19 L150.0,172.18 L150.5,171.05 L151.0,169.81 L151.5,168.45 L152.0,166.95 L152.5,165.33 L153.0,163.57 L153.5,161.69 L154.0,159.68 L154.5,157.54 L155.0,155.30 L155.5,152.95 L156.0,150.51 L156.5,148.01 L157.0,145.44 L157.5,142.85 L158.0,140.24 L158.5,137.64 L159.0,135.07 L159.5,132.56 L160.0,130.14 L160.5,127.82 L161.0,125.63 L161.5,123.59 L162.0,121.72 L162.5,120.05 L163.0,118.58 L163.5,117.33 L164.0,116.31 L164.5,115.52 L165.0,114.98 L165.5,114.67 L166.0,114.49 L166.5,114.43 L167.0,114.50 L167.5,114.69 L168.0,114.99 L168.5,115.40 L169.0,115.91 L169.5,116.52 L170.0,117.21 L170.5,117.99 L171.0,118.84 L171.5,119.76 L172.0,120.74 L172.5,121.78 L173.0,122.86 L173.5,123.97 L174.0,125.12 L174.5,126.29 L175.0,127.47 L175.5,128.67 L176.0,129.87 L176.5,131.06 L177.0,132.25 L177.5,133.42 L178.0,134.57 L178.5,135.70 L179.0,136.80 L179.5,137.87 L180.0,138.91 L180.5,139.91 L181.0,140.87 L181.5,141.78 L182.0,142.66 L182.5,143.50 L183.0,144.29 L183.5,145.04 L184.0,145.74 L184.5,146.40 L185.0,147.02 L185.5,147.60 L186.0,148.13 L186.5,148.63 L187.0,149.09 L187.5,149.52 L188.0,149.91 L188.5,150.26 L189.0,150.59 L189.5,150.89 L190.0,151.16 L190.5,151.41 L191.0,151.63 L191.5,151.83 L192.0,152.01 L192.5,152.17 L193.0,152.31 L193.5,152.44 L194.0,152.55 L194.5,152.66 L195.0,152.75 L195.5,152.82 L196.0,152.89 L196.5,152.95 L197.0,153.01 L197.5,153.05 L198.0,153.09 L198.5,153.12 L199.0,153.14 L199.5,153.15 L200.0,153.14 L200.5,153.12 L201.0,153.08 L201.5,153.04 L202.0,152.99 L202.5,152.92 L203.0,152.84 L203.5,152.76 L204.0,152.66 L204.5,152.56 L205.0,152.44 L205.5,152.31 L206.0,152.18 L206.5,152.03 L207.0,151.88 L207.5,151.72 L208.0,151.55 L208.5,151.36 L209.0,151.17 L209.5,150.97 L210.0,150.77 L210.5,150.55 L211.0,150.32 L211.5,150.09 L212.0,149.84 L212.5,149.59 L213.0,149.32 L213.5,149.05 L214.0,148.77 L214.5,148.48 L215.0,148.19 L215.5,147.88 L216.0,147.56 L216.5,147.24 L217.0,146.90 L217.5,146.56 L218.0,146.21 L218.5,145.85 L219.0,145.48 L219.5,145.10" fill="none" stroke="#6C3FA0" stroke-width="2.25" stroke-linejoin="round"/>
<path d="M86.5,179.30 L87.0,179.30 L87.5,179.30 L88.0,179.30 L88.5,179.30 L89.0,179.31 L89.5,179.31 L90.0,179.31 L90.5,179.32 L91.0,179.33 L91.5,179.33 L92.0,179.34 L92.5,179.35 L93.0,179.36 L93.5,179.37 L94.0,179.38 L94.5,179.39 L95.0,179.40 L95.5,179.41 L96.0,179.42 L96.5,179.44 L97.0,179.45 L97.5,179.46 L98.0,179.48 L98.5,179.49 L99.0,179.51 L99.5,179.52 L100.0,179.54 L100.5,179.55 L101.0,179.57 L101.5,179.58 L102.0,179.60 L102.5,179.61 L103.0,179.63 L103.5,179.64 L104.0,179.66 L104.5,179.67 L105.0,179.69 L105.5,179.71 L106.0,179.72 L106.5,179.74 L107.0,179.75 L107.5,179.76 L108.0,179.78 L108.5,179.79 L109.0,179.81 L109.5,179.82 L110.0,179.83 L110.5,179.84 L111.0,179.86 L111.5,179.87 L112.0,179.88 L112.5,179.89 L113.0,179.90 L113.5,179.91 L114.0,179.92 L114.5,179.93 L115.0,179.94 L115.5,179.95 L116.0,179.96 L116.5,179.97 L117.0,179.97 L117.5,179.98 L118.0,179.99 L118.5,179.99 L119.0,180.00 L119.5,180.01 L120.0,180.01 L120.5,180.02 L121.0,180.02 L121.5,180.02 L122.0,180.03 L122.5,180.03 L123.0,180.03 L123.5,180.04 L124.0,180.04 L124.5,180.04 L125.0,180.04 L125.5,180.04 L126.0,180.04 L126.5,180.04 L127.0,180.04 L127.5,180.04 L128.0,180.04 L128.5,180.03 L129.0,180.03 L129.5,180.03 L130.0,180.02 L130.5,180.01 L131.0,180.00 L131.5,179.99 L132.0,179.98 L132.5,179.97 L133.0,179.95 L133.5,179.93 L134.0,179.91 L134.5,179.88 L135.0,179.85 L135.5,179.81 L136.0,179.77 L136.5,179.73 L137.0,179.67 L137.5,179.61 L138.0,179.53 L138.5,179.44 L139.0,179.34 L139.5,179.23 L140.0,179.10 L140.5,178.94 L141.0,178.77 L141.5,178.57 L142.0,178.34 L142.5,178.07 L143.0,177.77 L143.5,177.43 L144.0,177.03 L144.5,176.59 L145.0,176.09 L145.5,175.53 L146.0,174.90 L146.5,174.19 L147.0,173.40 L147.5,172.53 L148.0,171.55 L148.5,170.49 L149.0,169.31 L149.5,168.03 L150.0,166.63 L150.5,165.12 L151.0,163.49 L151.5,161.75 L152.0,159.89 L152.5,157.92 L153.0,155.85 L153.5,153.67 L154.0,151.40 L154.5,149.06 L155.0,146.64 L155.5,144.17 L156.0,141.65 L156.5,139.11 L157.0,136.55 L157.5,134.00 L158.0,131.47 L158.5,128.97 L159.0,126.53 L159.5,124.15 L160.0,121.86 L160.5,119.67 L161.0,117.58 L161.5,115.63 L162.0,113.81 L162.5,112.14 L163.0,110.63 L163.5,109.29 L164.0,108.14 L164.5,107.16 L165.0,106.37 L165.5,105.78 L166.0,105.38 L166.5,105.18 L167.0,105.15 L167.5,105.31 L168.0,105.63 L168.5,106.12 L169.0,106.77 L169.5,107.57 L170.0,108.50 L170.5,109.57 L171.0,110.75 L171.5,112.03 L172.0,113.40 L172.5,114.85 L173.0,116.37 L173.5,117.93 L174.0,119.53 L174.5,121.16 L175.0,122.79 L175.5,124.43 L176.0,126.05 L176.5,127.66 L177.0,129.23 L177.5,130.76 L178.0,132.24 L178.5,133.67 L179.0,135.04 L179.5,136.35 L180.0,137.59 L180.5,138.77 L181.0,139.87 L181.5,140.90 L182.0,141.87 L182.5,142.76 L183.0,143.58 L183.5,144.34 L184.0,145.04 L184.5,145.67 L185.0,146.24 L185.5,146.76 L186.0,147.23 L186.5,147.65 L187.0,148.02 L187.5,148.35 L188.0,148.65 L188.5,148.91 L189.0,149.13 L189.5,149.33 L190.0,149.51 L190.5,149.66 L191.0,149.79 L191.5,149.90 L192.0,150.00 L192.5,150.08 L193.0,150.15 L193.5,150.21 L194.0,150.26 L194.5,150.30 L195.0,150.34 L195.5,150.37 L196.0,150.40 L196.5,150.42 L197.0,150.43 L197.5,150.45 L198.0,150.46 L198.5,150.46 L199.0,150.46 L199.5,150.44 L200.0,150.41 L200.5,150.37 L201.0,150.32 L201.5,150.26 L202.0,150.18 L202.5,150.10 L203.0,150.01 L203.5,149.91 L204.0,149.79 L204.5,149.67 L205.0,149.54 L205.5,149.40 L206.0,149.24 L206.5,149.08 L207.0,148.91 L207.5,148.73 L208.0,148.54 L208.5,148.33 L209.0,148.12 L209.5,147.90 L210.0,147.67 L210.5,147.43 L211.0,147.18 L211.5,146.92 L212.0,146.65 L212.5,146.36 L213.0,146.07 L213.5,145.77 L214.0,145.46 L214.5,145.14 L215.0,144.81 L215.5,144.47 L216.0,144.12 L216.5,143.76 L217.0,143.39 L217.5,143.02 L218.0,142.63 L218.5,142.23 L219.0,141.82 L219.5,141.40" fill="none" stroke="#2E6CB6" stroke-width="2.25" stroke-linejoin="round"/>
<path d="M86.5,178.00 L87.0,178.00 L87.5,178.00 L88.0,178.00 L88.5,178.00 L89.0,178.01 L89.5,178.01 L90.0,178.01 L90.5,178.02 L91.0,178.03 L91.5,178.03 L92.0,178.04 L92.5,178.05 L93.0,178.06 L93.5,178.07 L94.0,178.08 L94.5,178.09 L95.0,178.10 L95.5,178.11 L96.0,178.12 L96.5,178.14 L97.0,178.15 L97.5,178.16 L98.0,178.18 L98.5,178.19 L99.0,178.21 L99.5,178.22 L100.0,178.24 L100.5,178.25 L101.0,178.27 L101.5,178.28 L102.0,178.30 L102.5,178.31 L103.0,178.33 L103.5,178.34 L104.0,178.36 L104.5,178.37 L105.0,178.39 L105.5,178.40 L106.0,178.42 L106.5,178.43 L107.0,178.45 L107.5,178.46 L108.0,178.48 L108.5,178.49 L109.0,178.50 L109.5,178.52 L110.0,178.53 L110.5,178.54 L111.0,178.55 L111.5,178.57 L112.0,178.58 L112.5,178.59 L113.0,178.60 L113.5,178.61 L114.0,178.62 L114.5,178.63 L115.0,178.63 L115.5,178.64 L116.0,178.65 L116.5,178.66 L117.0,178.66 L117.5,178.67 L118.0,178.68 L118.5,178.68 L119.0,178.69 L119.5,178.69 L120.0,178.70 L120.5,178.70 L121.0,178.70 L121.5,178.70 L122.0,178.70 L122.5,178.70 L123.0,178.70 L123.5,178.70 L124.0,178.70 L124.5,178.70 L125.0,178.70 L125.5,178.69 L126.0,178.69 L126.5,178.68 L127.0,178.67 L127.5,178.66 L128.0,178.65 L128.5,178.64 L129.0,178.63 L129.5,178.61 L130.0,178.59 L130.5,178.57 L131.0,178.55 L131.5,178.52 L132.0,178.49 L132.5,178.46 L133.0,178.42 L133.5,178.38 L134.0,178.33 L134.5,178.28 L135.0,178.22 L135.5,178.16 L136.0,178.08 L136.5,178.00 L137.0,177.91 L137.5,177.81 L138.0,177.70 L138.5,177.57 L139.0,177.43 L139.5,177.28 L140.0,177.10 L140.5,176.91 L141.0,176.70 L141.5,176.46 L142.0,176.20 L142.5,175.90 L143.0,175.58 L143.5,175.22 L144.0,174.82 L144.5,174.38 L145.0,173.90 L145.5,173.37 L146.0,172.78 L146.5,172.13 L147.0,171.42 L147.5,170.64 L148.0,169.79 L148.5,168.87 L149.0,167.86 L149.5,166.76 L150.0,165.57 L150.5,164.29 L151.0,162.91 L151.5,161.42 L152.0,159.83 L152.5,158.13 L153.0,156.32 L153.5,154.40 L154.0,152.36 L154.5,150.20 L155.0,147.94 L155.5,145.56 L156.0,143.07 L156.5,140.48 L157.0,137.79 L157.5,135.00 L158.0,132.13 L158.5,129.19 L159.0,126.19 L159.5,123.15 L160.0,120.08 L160.5,117.00 L161.0,113.94 L161.5,110.92 L162.0,107.96 L162.5,105.09 L163.0,102.34 L163.5,99.73 L164.0,97.29 L164.5,95.05 L165.0,93.04 L165.5,91.26 L166.0,89.76 L166.5,88.53 L167.0,87.61 L167.5,86.98 L168.0,86.67 L168.5,86.65 L169.0,86.90 L169.5,87.42 L170.0,88.19 L170.5,89.20 L171.0,90.44 L171.5,91.89 L172.0,93.53 L172.5,95.33 L173.0,97.28 L173.5,99.36 L174.0,101.53 L174.5,103.77 L175.0,106.06 L175.5,108.38 L176.0,110.71 L176.5,113.01 L177.0,115.29 L177.5,117.51 L178.0,119.66 L178.5,121.74 L179.0,123.72 L179.5,125.61 L180.0,127.39 L180.5,129.06 L181.0,130.61 L181.5,132.05 L182.0,133.38 L182.5,134.60 L183.0,135.70 L183.5,136.71 L184.0,137.61 L184.5,138.42 L185.0,139.14 L185.5,139.78 L186.0,140.34 L186.5,140.83 L187.0,141.26 L187.5,141.63 L188.0,141.96 L188.5,142.23 L189.0,142.47 L189.5,142.67 L190.0,142.84 L190.5,142.98 L191.0,143.10 L191.5,143.20 L192.0,143.28 L192.5,143.35 L193.0,143.41 L193.5,143.45 L194.0,143.49 L194.5,143.52 L195.0,143.55 L195.5,143.57 L196.0,143.58 L196.5,143.59 L197.0,143.60 L197.5,143.61 L198.0,143.62 L198.5,143.62 L199.0,143.61 L199.5,143.59 L200.0,143.56 L200.5,143.52 L201.0,143.47 L201.5,143.41 L202.0,143.34 L202.5,143.27 L203.0,143.18 L203.5,143.09 L204.0,142.99 L204.5,142.87 L205.0,142.75 L205.5,142.62 L206.0,142.48 L206.5,142.33 L207.0,142.17 L207.5,142.01 L208.0,141.83 L208.5,141.65 L209.0,141.45 L209.5,141.25 L210.0,141.04 L210.5,140.82 L211.0,140.59 L211.5,140.35 L212.0,140.10 L212.5,139.84 L213.0,139.58 L213.5,139.30 L214.0,139.02 L214.5,138.73 L215.0,138.42 L215.5,138.11 L216.0,137.79 L216.5,137.46 L217.0,137.13 L217.5,136.78 L218.0,136.42 L218.5,136.06 L219.0,135.68 L219.5,135.30" fill="none" stroke="#3A9C8A" stroke-width="2.25" stroke-linejoin="round"/>
<path d="M86.5,176.90 L87.0,176.90 L87.5,176.90 L88.0,176.90 L88.5,176.90 L89.0,176.91 L89.5,176.91 L90.0,176.91 L90.5,176.92 L91.0,176.93 L91.5,176.93 L92.0,176.94 L92.5,176.95 L93.0,176.96 L93.5,176.97 L94.0,176.98 L94.5,176.99 L95.0,177.00 L95.5,177.01 L96.0,177.02 L96.5,177.04 L97.0,177.05 L97.5,177.06 L98.0,177.08 L98.5,177.09 L99.0,177.11 L99.5,177.12 L100.0,177.14 L100.5,177.15 L101.0,177.17 L101.5,177.18 L102.0,177.20 L102.5,177.21 L103.0,177.23 L103.5,177.24 L104.0,177.26 L104.5,177.27 L105.0,177.29 L105.5,177.31 L106.0,177.32 L106.5,177.33 L107.0,177.35 L107.5,177.36 L108.0,177.38 L108.5,177.39 L109.0,177.41 L109.5,177.42 L110.0,177.43 L110.5,177.44 L111.0,177.46 L111.5,177.47 L112.0,177.48 L112.5,177.49 L113.0,177.50 L113.5,177.51 L114.0,177.52 L114.5,177.53 L115.0,177.54 L115.5,177.55 L116.0,177.56 L116.5,177.56 L117.0,177.57 L117.5,177.58 L118.0,177.58 L118.5,177.59 L119.0,177.60 L119.5,177.60 L120.0,177.60 L120.5,177.61 L121.0,177.61 L121.5,177.62 L122.0,177.62 L122.5,177.62 L123.0,177.62 L123.5,177.62 L124.0,177.62 L124.5,177.62 L125.0,177.62 L125.5,177.62 L126.0,177.62 L126.5,177.61 L127.0,177.61 L127.5,177.60 L128.0,177.60 L128.5,177.59 L129.0,177.58 L129.5,177.56 L130.0,177.55 L130.5,177.53 L131.0,177.52 L131.5,177.49 L132.0,177.47 L132.5,177.44 L133.0,177.41 L133.5,177.37 L134.0,177.33 L134.5,177.28 L135.0,177.22 L135.5,177.16 L136.0,177.09 L136.5,177.00 L137.0,176.91 L137.5,176.80 L138.0,176.67 L138.5,176.53 L139.0,176.37 L139.5,176.18 L140.0,175.97 L140.5,175.73 L141.0,175.46 L141.5,175.14 L142.0,174.79 L142.5,174.39 L143.0,173.93 L143.5,173.41 L144.0,172.83 L144.5,172.17 L145.0,171.43 L145.5,170.61 L146.0,169.68 L146.5,168.66 L147.0,167.52 L147.5,166.26 L148.0,164.87 L148.5,163.35 L149.0,161.69 L149.5,159.89 L150.0,157.94 L150.5,155.85 L151.0,153.60 L151.5,151.21 L152.0,148.67 L152.5,145.99 L153.0,143.18 L153.5,140.23 L154.0,137.17 L154.5,133.99 L155.0,130.71 L155.5,127.34 L156.0,123.89 L156.5,120.38 L157.0,116.81 L157.5,113.21 L158.0,109.59 L158.5,105.96 L159.0,102.35 L159.5,98.78 L160.0,95.26 L160.5,91.83 L161.0,88.49 L161.5,85.28 L162.0,82.21 L162.5,79.32 L163.0,76.62 L163.5,74.14 L164.0,71.89 L164.5,69.90 L165.0,68.19 L165.5,66.76 L166.0,65.63 L166.5,64.81 L167.0,64.31 L167.5,64.12 L168.0,64.19 L168.5,64.51 L169.0,65.06 L169.5,65.84 L170.0,66.84 L170.5,68.05 L171.0,69.46 L171.5,71.05 L172.0,72.82 L172.5,74.73 L173.0,76.79 L173.5,78.96 L174.0,81.24 L174.5,83.60 L175.0,86.03 L175.5,88.51 L176.0,91.02 L176.5,93.55 L177.0,96.07 L177.5,98.58 L178.0,101.06 L178.5,103.50 L179.0,105.89 L179.5,108.20 L180.0,110.45 L180.5,112.61 L181.0,114.69 L181.5,116.67 L182.0,118.55 L182.5,120.34 L183.0,122.02 L183.5,123.60 L184.0,125.08 L184.5,126.45 L185.0,127.73 L185.5,128.91 L186.0,129.99 L186.5,130.99 L187.0,131.90 L187.5,132.73 L188.0,133.48 L188.5,134.16 L189.0,134.77 L189.5,135.32 L190.0,135.81 L190.5,136.25 L191.0,136.64 L191.5,136.98 L192.0,137.29 L192.5,137.55 L193.0,137.79 L193.5,137.99 L194.0,138.17 L194.5,138.32 L195.0,138.45 L195.5,138.57 L196.0,138.66 L196.5,138.75 L197.0,138.82 L197.5,138.88 L198.0,138.93 L198.5,138.97 L199.0,139.00 L199.5,139.01 L200.0,139.01 L200.5,139.01 L201.0,138.99 L201.5,138.96 L202.0,138.92 L202.5,138.87 L203.0,138.82 L203.5,138.76 L204.0,138.69 L204.5,138.61 L205.0,138.52 L205.5,138.43 L206.0,138.33 L206.5,138.23 L207.0,138.11 L207.5,137.99 L208.0,137.86 L208.5,137.73 L209.0,137.59 L209.5,137.44 L210.0,137.29 L210.5,137.13 L211.0,136.96 L211.5,136.78 L212.0,136.60 L212.5,136.42 L213.0,136.22 L213.5,136.02 L214.0,135.81 L214.5,135.60 L215.0,135.38 L215.5,135.15 L216.0,134.92 L216.5,134.68 L217.0,134.43 L217.5,134.18 L218.0,133.92 L218.5,133.65 L219.0,133.38 L219.5,133.10" fill="none" stroke="#92D2AB" stroke-width="2.25" stroke-linejoin="round"/>
<path d="M86.5,172.90 L87.0,172.93 L87.5,172.97 L88.0,173.00 L88.5,173.03 L89.0,173.07 L89.5,173.10 L90.0,173.14 L90.5,173.17 L91.0,173.21 L91.5,173.24 L92.0,173.28 L92.5,173.32 L93.0,173.35 L93.5,173.39 L94.0,173.43 L94.5,173.46 L95.0,173.50 L95.5,173.54 L96.0,173.58 L96.5,173.62 L97.0,173.66 L97.5,173.71 L98.0,173.75 L98.5,173.80 L99.0,173.85 L99.5,173.89 L100.0,173.94 L100.5,173.98 L101.0,174.02 L101.5,174.07 L102.0,174.11 L102.5,174.15 L103.0,174.18 L103.5,174.22 L104.0,174.25 L104.5,174.28 L105.0,174.30 L105.5,174.32 L106.0,174.35 L106.5,174.37 L107.0,174.39 L107.5,174.41 L108.0,174.44 L108.5,174.46 L109.0,174.48 L109.5,174.50 L110.0,174.52 L110.5,174.54 L111.0,174.56 L111.5,174.58 L112.0,174.60 L112.5,174.61 L113.0,174.63 L113.5,174.64 L114.0,174.65 L114.5,174.66 L115.0,174.67 L115.5,174.68 L116.0,174.69 L116.5,174.69 L117.0,174.70 L117.5,174.70 L118.0,174.70 L118.5,174.69 L119.0,174.68 L119.5,174.67 L120.0,174.65 L120.5,174.63 L121.0,174.60 L121.5,174.57 L122.0,174.54 L122.5,174.50 L123.0,174.47 L123.5,174.43 L124.0,174.39 L124.5,174.34 L125.0,174.30 L125.5,174.25 L126.0,174.19 L126.5,174.11 L127.0,174.03 L127.5,173.94 L128.0,173.84 L128.5,173.73 L129.0,173.63 L129.5,173.51 L130.0,173.40 L130.5,173.28 L131.0,173.15 L131.5,173.02 L132.0,172.87 L132.5,172.72 L133.0,172.55 L133.5,172.38 L134.0,172.20 L134.5,172.00 L135.0,171.79 L135.5,171.56 L136.0,171.31 L136.5,171.05 L137.0,170.77 L137.5,170.48 L138.0,170.19 L138.5,169.87 L139.0,169.54 L139.5,169.18 L140.0,168.79 L140.5,168.37 L141.0,167.90 L141.5,167.38 L142.0,166.78 L142.5,166.11 L143.0,165.36 L143.5,164.54 L144.0,163.61 L144.5,162.50 L145.0,161.19 L145.5,159.75 L146.0,158.20 L146.5,156.48 L147.0,154.54 L147.5,152.40 L148.0,149.97 L148.5,147.30 L149.0,144.58 L149.5,141.50 L150.0,137.39 L150.5,132.51 L151.0,127.72 L151.5,123.82 L152.0,120.64 L152.5,117.81 L153.0,115.18 L153.5,112.65 L154.0,110.09 L154.5,107.42 L155.0,104.77 L155.5,102.16 L156.0,99.54 L156.5,96.88 L157.0,94.13 L157.5,91.25 L158.0,88.22 L158.5,85.12 L159.0,82.02 L159.5,79.00 L160.0,76.04 L160.5,73.09 L161.0,70.17 L161.5,67.32 L162.0,64.59 L162.5,61.99 L163.0,59.36 L163.5,56.74 L164.0,54.29 L164.5,52.16 L165.0,50.50 L165.5,49.13 L166.0,47.80 L166.5,46.60 L167.0,45.61 L167.5,44.92 L168.0,44.61 L168.5,44.76 L169.0,45.34 L169.5,46.26 L170.0,47.41 L170.5,48.69 L171.0,50.00 L171.5,51.49 L172.0,53.34 L172.5,55.46 L173.0,57.80 L173.5,60.27 L174.0,62.86 L174.5,65.80 L175.0,69.06 L175.5,72.53 L176.0,76.07 L176.5,79.59 L177.0,82.96 L177.5,86.20 L178.0,89.49 L178.5,92.72 L179.0,95.77 L179.5,98.50 L180.0,100.92 L180.5,103.15 L181.0,105.24 L181.5,107.25 L182.0,109.21 L182.5,111.18 L183.0,113.13 L183.5,115.03 L184.0,116.83 L184.5,118.50 L185.0,120.11 L185.5,121.65 L186.0,122.97 L186.5,123.96 L187.0,124.78 L187.5,125.53 L188.0,126.19 L188.5,126.79 L189.0,127.34 L189.5,127.84 L190.0,128.32 L190.5,128.77 L191.0,129.23 L191.5,129.68 L192.0,130.10 L192.5,130.47 L193.0,130.79 L193.5,131.04 L194.0,131.20 L194.5,131.31 L195.0,131.41 L195.5,131.50 L196.0,131.58 L196.5,131.65 L197.0,131.71 L197.5,131.75 L198.0,131.78 L198.5,131.80 L199.0,131.79 L199.5,131.74 L200.0,131.66 L200.5,131.55 L201.0,131.41 L201.5,131.27 L202.0,131.11 L202.5,130.95 L203.0,130.80 L203.5,130.65 L204.0,130.48 L204.5,130.30 L205.0,130.11 L205.5,129.91 L206.0,129.70 L206.5,129.48 L207.0,129.26 L207.5,129.03 L208.0,128.80 L208.5,128.56 L209.0,128.30 L209.5,128.03 L210.0,127.75 L210.5,127.47 L211.0,127.17 L211.5,126.88 L212.0,126.58 L212.5,126.29 L213.0,126.00 L213.5,125.71 L214.0,125.43 L214.5,125.14 L215.0,124.85 L215.5,124.56 L216.0,124.27 L216.5,123.98 L217.0,123.68 L217.5,123.39 L218.0,123.09 L218.5,122.80 L219.0,122.50 L219.5,122.20" fill="none" stroke="#2AAAE2" stroke-width="2.25" stroke-linejoin="round"/>
<rect x="55" y="13" width="183" height="181" fill="none" stroke="#000" stroke-width="1.9"/>
<line x1="55.00" y1="49.20" x2="59.50" y2="49.20" stroke="#000" stroke-width="1.5"/>
<text x="41.80" y="54.30" font-size="15" text-anchor="end" >110</text>
<line x1="55.00" y1="85.40" x2="59.50" y2="85.40" stroke="#000" stroke-width="1.5"/>
<text x="41.80" y="90.50" font-size="15" text-anchor="end" >80</text>
<line x1="55.00" y1="121.60" x2="59.50" y2="121.60" stroke="#000" stroke-width="1.5"/>
<text x="41.80" y="126.70" font-size="15" text-anchor="end" >50</text>
<line x1="55.00" y1="157.80" x2="59.50" y2="157.80" stroke="#000" stroke-width="1.5"/>
<text x="41.80" y="162.90" font-size="15" text-anchor="end" >20</text>
<text x="41.80" y="18.10" font-size="15" text-anchor="end" >140</text>
<text x="41.80" y="199.10" font-size="15" text-anchor="end" >-10</text>
<line x1="146.50" y1="194.00" x2="146.50" y2="189.00" stroke="#000" stroke-width="1.5"/>
<text x="55.00" y="217.30" font-size="14" text-anchor="middle" >0.3</text>
<text x="146.50" y="217.30" font-size="14" text-anchor="middle" >0.8</text>
<text x="238.00" y="217.30" font-size="14" text-anchor="middle" >1.3</text>
<text transform="translate(57.6,38.2) scale(0.93,1.0)" font-size="25">A</text>
<text x="97.60" y="82.80" font-size="14" text-anchor="middle" >100.0</text>
<text x="116.50" y="112.50" font-size="16" text-anchor="middle" >µM</text>
<text x="96.80" y="143.40" font-size="14" text-anchor="middle" >1.0</text>
<line x1="96.80" y1="130.50" x2="96.80" y2="91.00" stroke="#000" stroke-width="1.3"/>
<polygon points="96.80,86.80 94.30,92.30 99.30,92.30" fill="#000" />
<text transform="translate(19.2,115.8) scale(0.86,1) rotate(-90)" font-size="17.8" text-anchor="middle">Current/µA</text>
<text transform="translate(148.9,234.8) scale(0.96,1)" font-size="17" text-anchor="middle">Potential/V vs Ag / AgCl</text>
<rect x="295" y="17" width="174.5" height="174" fill="none" stroke="#000" stroke-width="1.9"/>
<line x1="295.00" y1="147.50" x2="299.50" y2="147.50" stroke="#000" stroke-width="1.5"/>
<line x1="295.00" y1="104.00" x2="299.50" y2="104.00" stroke="#000" stroke-width="1.5"/>
<line x1="295.00" y1="60.50" x2="299.50" y2="60.50" stroke="#000" stroke-width="1.5"/>
<text x="281.90" y="196.10" font-size="15" text-anchor="end" >0</text>
<text x="281.90" y="152.60" font-size="15" text-anchor="end" >30</text>
<text x="281.90" y="109.10" font-size="15" text-anchor="end" >60</text>
<text x="281.90" y="65.60" font-size="15" text-anchor="end" >90</text>
<text x="281.90" y="22.10" font-size="15" text-anchor="end" >120</text>
<line x1="374.60" y1="191.00" x2="374.60" y2="186.50" stroke="#000" stroke-width="1.5"/>
<line x1="454.20" y1="191.00" x2="454.20" y2="186.50" stroke="#000" stroke-width="1.5"/>
<text x="295.00" y="214.60" font-size="14.5" text-anchor="middle" >0</text>
<text x="374.60" y="214.60" font-size="14.5" text-anchor="middle" >50</text>
<text x="454.20" y="214.60" font-size="14.5" text-anchor="middle" >100</text>
<text x="299.80" y="41.30" font-size="21.5" text-anchor="start" >B</text>
<text x="394.50" y="44.20" font-size="9.8" text-anchor="middle" >y = 0.8932x + 5.3662</text>
<text x="395.00" y="53.90" font-size="9.8" text-anchor="middle" >R² = 0.9901</text>
<text transform="translate(258.6,106.2) scale(0.9,1) rotate(-90)" font-size="18" text-anchor="middle">Current/µA</text>
<text x="377.40" y="230.50" font-size="17" text-anchor="middle" >C /µM</text>
<line x1="295.00" y1="183.22" x2="454.20" y2="53.71" stroke="#EE2A2E" stroke-width="1.75" stroke-dasharray="0 3.3" stroke-linecap="round"/>
<rect x="294.69" y="186.92" width="3.8" height="3.8" fill="#2A9FDC"/>
<rect x="296.28" y="182.72" width="3.8" height="3.8" fill="#2A9FDC"/>
<rect x="299.47" y="178.95" width="3.8" height="3.8" fill="#2A9FDC"/>
<rect x="305.84" y="165.47" width="3.8" height="3.8" fill="#2A9FDC"/>
<rect x="312.20" y="157.92" width="3.8" height="3.8" fill="#2A9FDC"/>
<line x1="333.21" y1="147.50" x2="333.21" y2="150.98" stroke="#000" stroke-width="1.2"/>
<line x1="331.21" y1="147.50" x2="335.21" y2="147.50" stroke="#000" stroke-width="1.6"/>
<line x1="331.21" y1="150.98" x2="335.21" y2="150.98" stroke="#000" stroke-width="1.6"/>
<rect x="331.31" y="147.34" width="3.8" height="3.8" fill="#2A9FDC"/>
<line x1="352.31" y1="136.91" x2="352.31" y2="141.56" stroke="#000" stroke-width="1.2"/>
<line x1="350.31" y1="136.91" x2="354.31" y2="136.91" stroke="#000" stroke-width="1.6"/>
<line x1="350.31" y1="141.56" x2="354.31" y2="141.56" stroke="#000" stroke-width="1.6"/>
<rect x="350.41" y="137.33" width="3.8" height="3.8" fill="#2A9FDC"/>
<line x1="366.64" y1="118.64" x2="366.64" y2="126.19" stroke="#000" stroke-width="1.2"/>
<line x1="364.64" y1="118.64" x2="368.64" y2="118.64" stroke="#000" stroke-width="1.6"/>
<line x1="364.64" y1="126.19" x2="368.64" y2="126.19" stroke="#000" stroke-width="1.6"/>
<rect x="364.74" y="120.52" width="3.8" height="3.8" fill="#2A9FDC"/>
<line x1="390.52" y1="98.06" x2="390.52" y2="107.34" stroke="#000" stroke-width="1.2"/>
<line x1="388.52" y1="98.06" x2="392.52" y2="98.06" stroke="#000" stroke-width="1.6"/>
<line x1="388.52" y1="107.34" x2="392.52" y2="107.34" stroke="#000" stroke-width="1.6"/>
<rect x="388.62" y="100.80" width="3.8" height="3.8" fill="#2A9FDC"/>
<line x1="422.36" y1="79.21" x2="422.36" y2="88.19" stroke="#000" stroke-width="1.2"/>
<line x1="420.36" y1="79.21" x2="424.36" y2="79.21" stroke="#000" stroke-width="1.6"/>
<line x1="420.36" y1="88.19" x2="424.36" y2="88.19" stroke="#000" stroke-width="1.6"/>
<rect x="420.46" y="81.80" width="3.8" height="3.8" fill="#2A9FDC"/>
<line x1="454.20" y1="46.58" x2="454.20" y2="59.05" stroke="#000" stroke-width="1.2"/>
<line x1="452.20" y1="46.58" x2="456.20" y2="46.58" stroke="#000" stroke-width="1.6"/>
<line x1="452.20" y1="59.05" x2="456.20" y2="59.05" stroke="#000" stroke-width="1.6"/>
<rect x="452.30" y="50.91" width="3.8" height="3.8" fill="#2A9FDC"/>
<text transform="translate(9.2,295.3) scale(1.2,1)" font-size="22.5">C</text>
<polyline points="111.52,412.54 442.82,445.32 453.84,303.10 103.89,288.55 111.52,412.54" fill="none" stroke="#000" stroke-width="1.9" stroke-linejoin="round"/>
<polyline points="103.89,288.55 92.00,291.00 100.40,417.71 111.52,412.54" fill="none" stroke="#000" stroke-width="1.9" stroke-linejoin="round"/>
<polyline points="100.40,417.71 438.75,452.18" fill="none" stroke="#000" stroke-width="1.9" stroke-linejoin="round"/>
<line x1="96.69" y1="361.73" x2="104.99" y2="361.73" stroke="#000" stroke-width="1.6"/>
<line x1="92.80" y1="303.07" x2="101.10" y2="303.07" stroke="#000" stroke-width="1.6"/>
<polygon points="120.69,419.06 125.78,415.64 119.27,298.65 113.89,299.77" fill="url(#gb)" />
<polygon points="103.86,299.87 114.49,300.37 119.27,298.65 108.73,298.17" fill="#34AFE4" />
<polygon points="111.13,418.03 121.29,419.06 114.49,299.77 103.86,299.27" fill="#29A9E1" />
<polygon points="154.01,422.46 158.85,418.94 153.89,300.63 148.78,301.78" fill="url(#gb)" />
<polygon points="138.42,301.87 149.38,302.38 153.89,300.63 143.01,300.13" fill="#34AFE4" />
<polygon points="144.14,421.39 154.61,422.46 149.38,301.78 138.42,301.27" fill="#29A9E1" />
<polygon points="162.53,423.33 167.31,419.78 167.22,417.57 162.44,419.82" fill="url(#gr)" />
<polygon points="152.48,419.36 163.04,420.42 167.22,417.57 156.74,416.54" fill="#EF2A30" />
<polygon points="152.58,422.26 163.13,423.33 163.04,419.82 152.48,418.76" fill="#ED1C24" />
<polygon points="188.37,425.97 192.94,422.34 189.52,299.11 184.71,300.27" fill="url(#gb)" />
<polygon points="173.97,300.35 185.31,300.87 189.52,299.11 178.28,298.60" fill="#34AFE4" />
<polygon points="178.17,424.87 188.97,425.97 185.31,300.27 173.97,299.75" fill="#29A9E1" />
<polygon points="197.16,426.87 201.67,423.21 201.61,420.97 197.10,423.28" fill="url(#gr)" />
<polygon points="186.81,422.79 197.70,423.88 201.61,420.97 190.80,419.90" fill="#EF2A30" />
<polygon points="186.88,425.76 197.76,426.87 197.70,423.28 186.81,422.19" fill="#ED1C24" />
<polygon points="223.82,429.59 228.11,425.85 226.54,306.04 222.06,307.29" fill="url(#gb)" />
<polygon points="210.96,307.33 222.66,307.89 226.54,306.04 214.95,305.49" fill="#34AFE4" />
<polygon points="213.28,428.45 224.42,429.59 222.66,307.29 210.96,306.73" fill="#29A9E1" />
<polygon points="232.90,430.52 237.11,426.74 236.67,379.59 232.38,381.56" fill="url(#gr)" />
<polygon points="221.53,381.25 232.98,382.16 236.67,379.59 225.31,378.69" fill="#EF2A30" />
<polygon points="222.27,429.37 233.50,430.52 232.98,381.56 221.53,380.65" fill="#ED1C24" />
<polygon points="260.42,433.33 264.40,429.47 264.66,308.56 260.51,309.86" fill="url(#gb)" />
<polygon points="249.02,309.88 261.11,310.46 264.66,308.56 252.67,308.00" fill="#34AFE4" />
<polygon points="249.52,432.15 261.02,433.33 261.11,309.86 249.02,309.28" fill="#29A9E1" />
<polygon points="269.79,434.28 273.69,430.39 273.79,414.15 269.87,416.48" fill="url(#gr)" />
<polygon points="258.79,415.98 270.47,417.08 273.79,414.15 262.21,413.07" fill="#EF2A30" />
<polygon points="258.79,433.10 270.39,434.28 270.47,416.48 258.79,415.38" fill="#ED1C24" />
<polygon points="298.22,437.19 301.86,433.20 304.05,310.83 300.27,312.17" fill="url(#gb)" />
<polygon points="288.36,312.17 300.87,312.77 304.05,310.83 291.66,310.24" fill="#34AFE4" />
<polygon points="286.93,435.97 298.82,437.19 300.87,312.17 288.36,311.57" fill="#29A9E1" />
<polygon points="307.90,438.18 311.46,434.16 312.39,391.78 308.79,393.94" fill="url(#gr)" />
<polygon points="297.18,393.54 309.39,394.54 312.39,391.78 300.30,390.80" fill="#EF2A30" />
<polygon points="296.52,436.95 308.50,438.18 309.39,393.94 297.18,392.94" fill="#ED1C24" />
<polygon points="337.28,441.18 340.57,437.06 345.00,307.28 341.62,308.61" fill="url(#gb)" />
<polygon points="329.23,308.62 342.22,309.21 345.00,307.28 332.15,306.70" fill="#34AFE4" />
<polygon points="325.60,439.92 337.88,441.18 342.22,308.61 329.23,308.02" fill="#29A9E1" />
<polygon points="347.29,442.20 350.48,438.05 350.57,435.67 347.38,438.30" fill="url(#gr)" />
<polygon points="335.58,437.66 347.98,438.90 350.57,435.67 338.29,434.46" fill="#EF2A30" />
<polygon points="335.50,440.93 347.89,442.20 347.98,438.30 335.58,437.06" fill="#ED1C24" />
<polygon points="377.66,445.30 380.57,441.05 387.15,312.19 384.20,313.59" fill="url(#gb)" />
<polygon points="371.36,313.56 384.80,314.19 387.15,312.19 373.86,311.57" fill="#34AFE4" />
<polygon points="365.56,444.01 378.26,445.30 384.80,313.59 371.36,312.96" fill="#29A9E1" />
<polygon points="388.01,446.36 390.82,442.07 390.95,439.66 388.15,442.37" fill="url(#gr)" />
<polygon points="375.92,441.69 388.75,442.97 390.95,439.66 378.25,438.41" fill="#EF2A30" />
<polygon points="375.80,445.05 388.61,446.36 388.75,442.37 375.92,441.09" fill="#ED1C24" />
<polygon points="419.44,449.57 421.94,445.17 430.95,313.88 428.45,315.33" fill="url(#gb)" />
<polygon points="415.12,315.28 429.05,315.93 430.95,313.88 417.17,313.24" fill="#34AFE4" />
<polygon points="406.90,448.23 420.04,449.57 429.05,315.33 415.12,314.68" fill="#29A9E1" />
<polygon points="430.15,450.67 432.54,446.23 432.72,443.78 430.33,446.59" fill="url(#gr)" />
<polygon points="417.66,445.86 430.93,447.19 432.72,443.78 419.58,442.49" fill="#EF2A30" />
<polygon points="417.49,449.31 430.75,450.67 430.93,446.59 417.66,445.26" fill="#ED1C24" />
<text transform="translate(39.8,310.2) scale(1.35,1)" font-size="22.3">10</text>
<text transform="translate(58.6,368.6) scale(1.2,1) skewX(-10)" font-size="22.3">5</text>
<text transform="translate(61.9,425.0) scale(1.35,1)" font-size="22.3">0</text>
<text transform="translate(46.3,375.8) scale(1.2,1) rotate(-90)" font-size="16" stroke="#000" stroke-width="0.35" text-anchor="middle">Current/µA</text>
<text transform="translate(121.43,437.19) scale(1.2,1) rotate(-44)" font-size="15" text-anchor="end">Fentanyle</text>
<text transform="translate(154.67,440.85) scale(1.2,1) rotate(-44)" font-size="15" text-anchor="end">Oxycodone</text>
<text transform="translate(189.59,444.30) scale(1.2,1) rotate(-44)" font-size="15" text-anchor="end">Dopamine</text>
<text transform="translate(221.80,451.20) scale(1.2,1) rotate(-44)" font-size="15" text-anchor="end">Paracetamol</text>
<text transform="translate(261.40,451.49) scale(1.2,1) rotate(-44)" font-size="15" text-anchor="end">Ascorbic acid</text>
<text transform="translate(299.41,456.23) scale(1.2,1) rotate(-44)" font-size="15" text-anchor="end">Uric acid</text>
<text transform="translate(338.75,459.38) scale(1.2,1) rotate(-44)" font-size="15" text-anchor="end">Zolpidem</text>
<text transform="translate(379.01,463.65) scale(1.2,1) rotate(-44)" font-size="15" text-anchor="end">Glucose</text>
<text transform="translate(420.84,467.69) scale(1.2,1) rotate(-44)" font-size="15" text-anchor="end">Sodium chloride</text>
<text transform="translate(184.4,539.2) scale(1.095,1)" font-size="19.8" text-anchor="middle">Interfering species</text>
</svg>
</body></html>
